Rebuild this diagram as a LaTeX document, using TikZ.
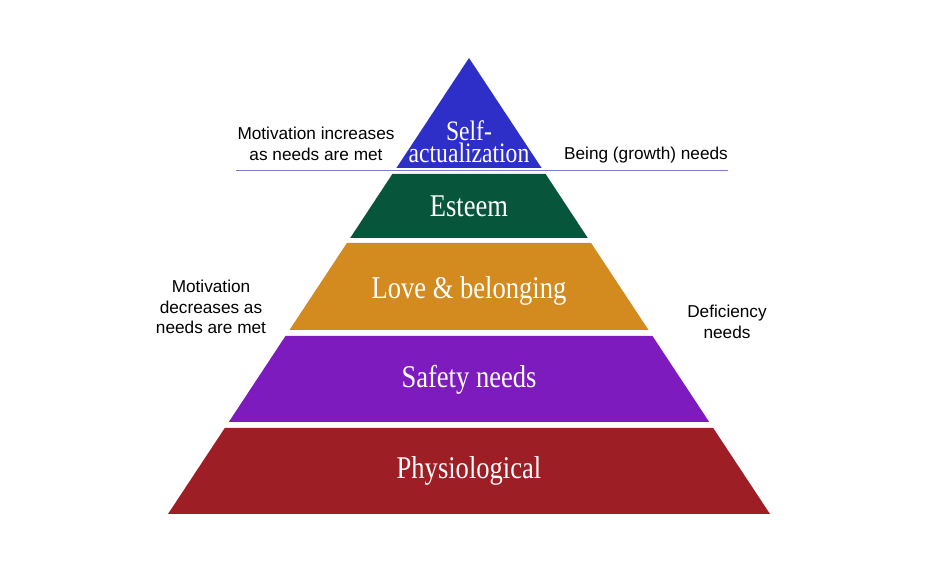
\documentclass[tikz,border=0pt]{standalone}
\usepackage{fontspec}
\setmainfont{Liberation Serif}[FakeStretch=0.84]
\newfontfamily\sidefont{Liberation Sans}
\begin{document}
\begin{tikzpicture}[x=0.02cm,y=-0.02cm,
  lbl/.style={text=white,font=\fontsize{18}{18}\selectfont,align=center,inner sep=0},
  side/.style={font=\sidefont\fontsize{9.8}{11.6}\selectfont,align=center,inner sep=0}]
\definecolor{cblue}{HTML}{2E2FC8}
\definecolor{cgreen}{HTML}{07553B}
\definecolor{corange}{HTML}{D38A1F}
\definecolor{cpurple}{HTML}{7E1BBE}
\definecolor{cred}{HTML}{9D1E24}
\definecolor{cline}{HTML}{7C7CD6}
\fill[white] (0,0) rectangle (938,573);
\fill[cblue] (469,58) -- (541.6,168) -- (396.4,168) -- cycle;
\fill[cgreen] (392.4,174) -- (545.6,174) -- (587.8,238) -- (350.2,238) -- cycle;
\fill[corange] (346.9,243) -- (591.1,243) -- (648.5,330) -- (289.5,330) -- cycle;
\fill[cpurple] (285.5,336) -- (652.5,336) -- (709.2,422) -- (228.8,422) -- cycle;
\fill[cred] (224.8,428) -- (713.2,428) -- (770,514) -- (168,514) -- cycle;
\draw[cline,line width=0.6pt] (236,170.5) coordinate (l1) -- (728,170.5) coordinate (l2);
\node[lbl,font=\fontsize{16}{12.5}\selectfont] (sa) at (469,142) {Self-\\actualization};
\node[lbl] (es) at (469,206) {Esteem};
\node[lbl] (lb) at (469,291) {Love \& belonging};
\node[lbl] (sn) at (469,380) {Safety needs};
\node[lbl] (ph) at (469,471) {Physiological};
\node[side] (mi) at (316,144) {Motivation increases\\as needs are met};
\node[side] (bg) at (646,155) {Being (growth) needs};
\node[side] (md) at (211,307) {Motivation\\decreases as\\needs are met};
\node[side] (dn) at (727,322) {Deficiency\\needs};
\end{tikzpicture}
\end{document}
